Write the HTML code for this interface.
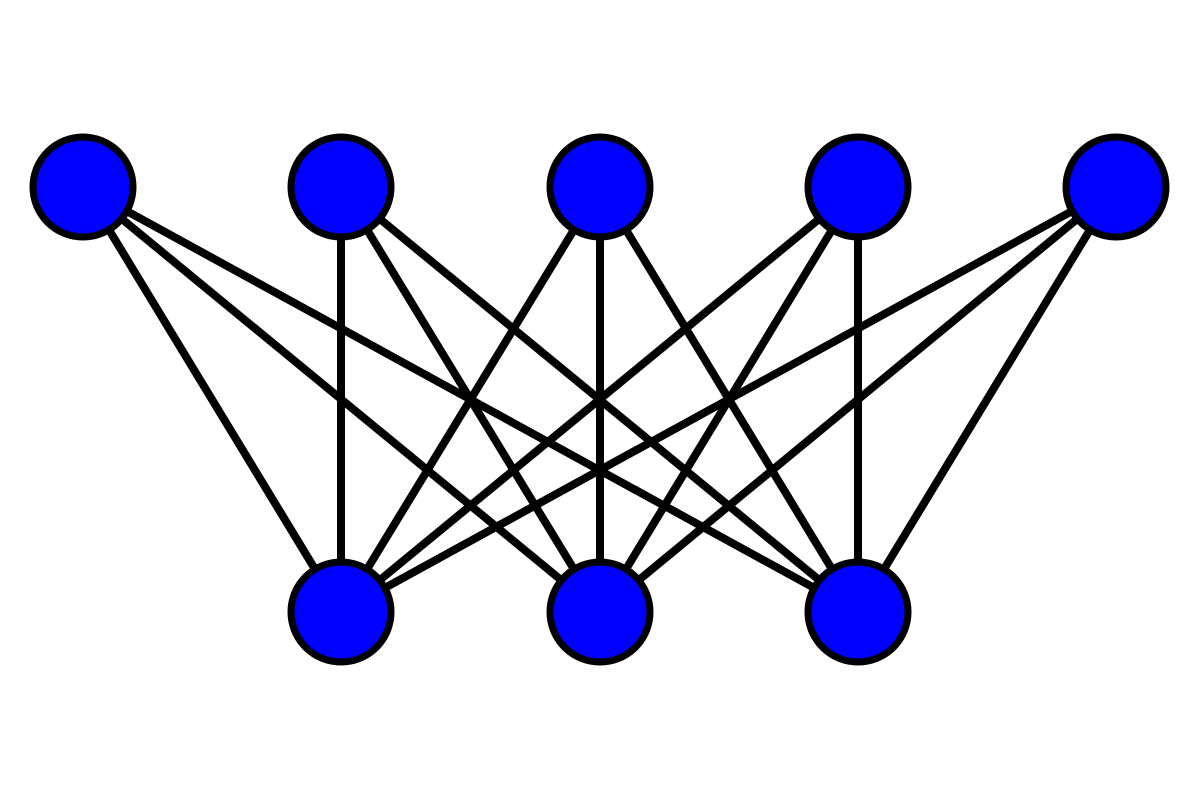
<!DOCTYPE html>
<html><head><style>html,body{margin:0;padding:0;background:#fff}</style></head>
<body>
<svg width="1200" height="800" viewBox="0 0 1200 800" xmlns="http://www.w3.org/2000/svg">
<g stroke="#000" stroke-width="8">
<line x1="83" y1="187" x2="341" y2="612"/><line x1="83" y1="187" x2="600" y2="612"/><line x1="83" y1="187" x2="858" y2="612"/>
<line x1="341" y1="187" x2="341" y2="612"/><line x1="341" y1="187" x2="600" y2="612"/><line x1="341" y1="187" x2="858" y2="612"/>
<line x1="600" y1="187" x2="341" y2="612"/><line x1="600" y1="187" x2="600" y2="612"/><line x1="600" y1="187" x2="858" y2="612"/>
<line x1="858" y1="187" x2="341" y2="612"/><line x1="858" y1="187" x2="600" y2="612"/><line x1="858" y1="187" x2="858" y2="612"/>
<line x1="1116" y1="187" x2="341" y2="612"/><line x1="1116" y1="187" x2="600" y2="612"/><line x1="1116" y1="187" x2="858" y2="612"/>
</g>
<g fill="#0000ff" stroke="#000" stroke-width="7">
<circle cx="83" cy="187" r="50"/><circle cx="341" cy="187" r="50"/><circle cx="600" cy="187" r="50"/><circle cx="858" cy="187" r="50"/><circle cx="1116" cy="187" r="50"/>
<circle cx="341" cy="612" r="50"/><circle cx="600" cy="612" r="50"/><circle cx="858" cy="612" r="50"/>
</g>
</svg>
</body></html>
